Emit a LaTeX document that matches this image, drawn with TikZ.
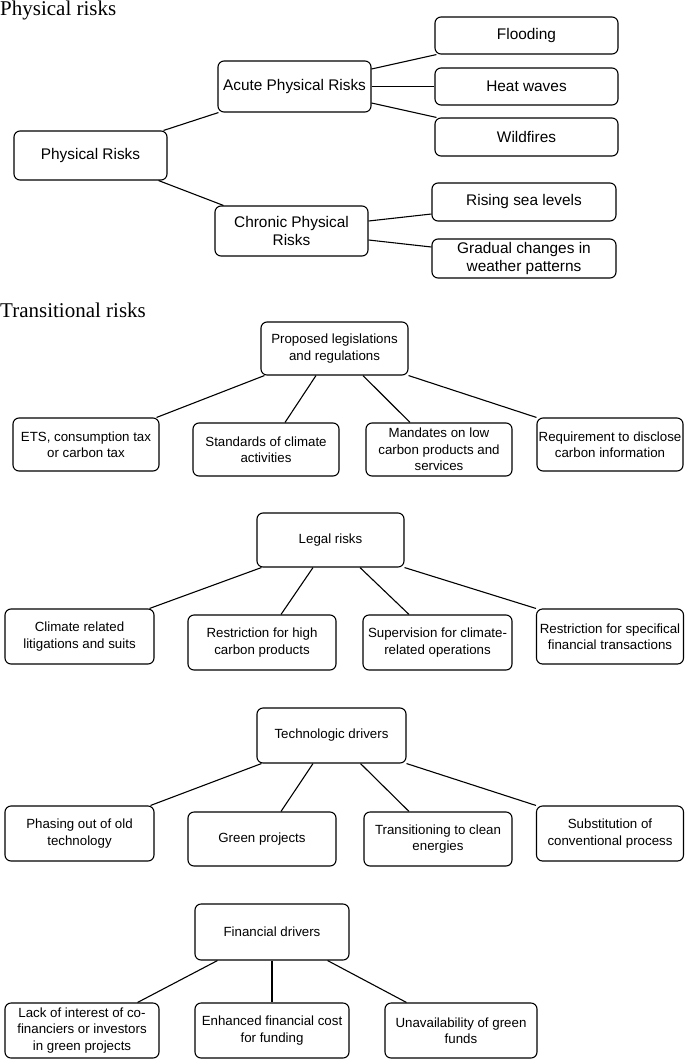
\documentclass[tikz,border=0pt]{standalone}
\usepackage{fontspec}
\setmainfont{Liberation Serif}
\setsansfont{Liberation Sans}
\begin{document}
\begin{tikzpicture}[x=1pt,y=-1pt,
  box/.style={draw=black, line width=1.1pt, rounded corners=6pt, inner sep=0pt,
    align=center, font=\sffamily\fontsize{13.3}{16.5}\selectfont},
  pbox/.style={box, font=\sffamily\fontsize{15.4}{18.5}\selectfont},
  conn/.style={draw=black, line width=1.1pt},
  title/.style={anchor=base west, inner sep=0pt, font=\rmfamily\fontsize{21}{24}\selectfont}]
\useasboundingbox[fill=white] (0,0) rectangle (685,1060);

% ---------- Physical risks ----------
\node[title] (t1) at (0,15.5) {Physical risks};
\node[pbox, minimum width=183pt, minimum height=37pt] (flood) at (526.5,35.5) {Flooding};
\node[pbox, minimum width=183pt, minimum height=37pt] (heat) at (526.5,86.5) {Heat waves};
\node[pbox, minimum width=183pt, minimum height=38pt] (wild) at (526.5,137) {Wildfires};
\node[pbox, minimum width=153pt, minimum height=51pt] (acute) at (294.5,86.5) {Acute Physical Risks};
\node[pbox, minimum width=153pt, minimum height=49pt] (phys) at (90.5,155.5) {Physical Risks};
\node[pbox, minimum width=153pt, minimum height=50pt] (chronic) at (291.5,231) {Chronic Physical\\Risks};
\node[pbox, minimum width=184pt, minimum height=38pt] (rising) at (524,202) {Rising sea levels};
\node[pbox, minimum width=184pt, minimum height=39pt] (gradual) at (524,258.5) {Gradual changes in\\weather patterns};

\draw[conn] ([xshift=-4pt]phys.north east) -- ([xshift=1pt]acute.south west);
\draw[conn] ([xshift=-9pt]phys.south east) -- ([xshift=9pt]chronic.north west);
\draw[conn] ([yshift=17.5pt]acute.east) -- ([xshift=2pt]flood.south west);
\draw[conn] (acute.east) -- (heat.west);
\draw[conn] ([yshift=-16.5pt]acute.east) -- ([xshift=2pt]wild.north west);
\draw[conn] ([yshift=10pt]chronic.east) -- ([yshift=-12pt]rising.west);
\draw[conn] ([yshift=-9pt]chronic.east) -- ([yshift=11.5pt]gradual.west);

% ---------- Transitional risks ----------
\node[title] (t2) at (0,317) {Transitional risks};

% Proposed legislations
\node[box, minimum width=147pt, minimum height=53pt] (prop) at (334.5,348.5) {Proposed legislations\\and regulations};
\node[box, minimum width=146pt, minimum height=53pt] (ets) at (86,444.5) {ETS, consumption tax\\or carbon tax};
\node[box, minimum width=146pt, minimum height=53pt] (std) at (266,449.5) {Standards of climate\\activities};
\node[box, minimum width=146pt, minimum height=53pt] (mand) at (439,449.5) {Mandates on low\\carbon products and\\services};
\node[box, minimum width=146pt, minimum height=53pt] (req) at (610,444.5) {Requirement to disclose\\carbon information};
\draw[conn] ([xshift=4pt]prop.south west) -- ([xshift=-3pt]ets.north east);
\draw[conn] ([xshift=-18.5pt]prop.south) -- ([xshift=19pt]std.north);
\draw[conn] ([xshift=28.5pt]prop.south) -- ([xshift=-29pt]mand.north);
\draw[conn] (prop.south east) -- (req.north west);

% Legal risks
\node[box, minimum width=147pt, minimum height=54pt] (legal) at (330.5,540) {Legal risks};
\node[box, minimum width=149pt, minimum height=55pt] (clim) at (79.5,636.5) {Climate related\\litigations and suits};
\node[box, minimum width=148pt, minimum height=55pt] (rhigh) at (262,642.5) {Restriction for high\\carbon products};
\node[box, minimum width=149pt, minimum height=55pt] (sup) at (437.5,642.5) {Supervision for climate-\\related operations};
\node[box, minimum width=147pt, minimum height=55pt] (rspec) at (610,636.5) {Restriction for specifical\\financial transactions};
\draw[conn] ([xshift=5pt]legal.south west) -- ([xshift=-5pt]clim.north east);
\draw[conn] ([xshift=-17.5pt]legal.south) -- ([xshift=19pt]rhigh.north);
\draw[conn] ([xshift=29.5pt]legal.south) -- ([xshift=-28.5pt]sup.north);
\draw[conn] (legal.south east) -- (rspec.north west);

% Technologic drivers
\node[box, minimum width=149pt, minimum height=55pt] (tech) at (331.5,735.5) {Technologic drivers};
\node[box, minimum width=149pt, minimum height=55pt] (phase) at (79.5,833.5) {Phasing out of old\\technology};
\node[box, minimum width=148pt, minimum height=54pt] (green) at (262,839) {Green projects};
\node[box, minimum width=148pt, minimum height=54pt] (trans) at (438,839) {Transitioning to clean\\energies};
\node[box, minimum width=147pt, minimum height=55pt] (subst) at (610,833.5) {Substitution of\\conventional process};
\draw[conn] ([xshift=5pt]tech.south west) -- ([xshift=-4pt]phase.north east);
\draw[conn] ([xshift=-18.5pt]tech.south) -- ([xshift=19pt]green.north);
\draw[conn] ([xshift=29pt]tech.south) -- ([xshift=-29pt]trans.north);
\draw[conn] (tech.south east) -- (subst.north west);

% Financial drivers
\node[box, minimum width=154pt, minimum height=56pt] (fin) at (272,932) {Financial drivers};
\node[box, minimum width=154pt, minimum height=55pt] (lack) at (82,1030.5) {Lack of interest of co-\\financiers or investors\\in green projects};
\node[box, minimum width=154pt, minimum height=55pt] (enh) at (272,1030.5) {Enhanced financial cost\\for funding};
\node[box, minimum width=152pt, minimum height=55pt] (unav) at (461,1030.5) {Unavailability of green\\funds};
\draw[conn] ([xshift=23pt]fin.south west) -- ([xshift=-22pt]lack.north east);
\draw[conn] (fin.south) -- (enh.north);
\draw[conn] ([xshift=-22pt]fin.south east) -- ([xshift=22pt]unav.north west);
\end{tikzpicture}
\end{document}
